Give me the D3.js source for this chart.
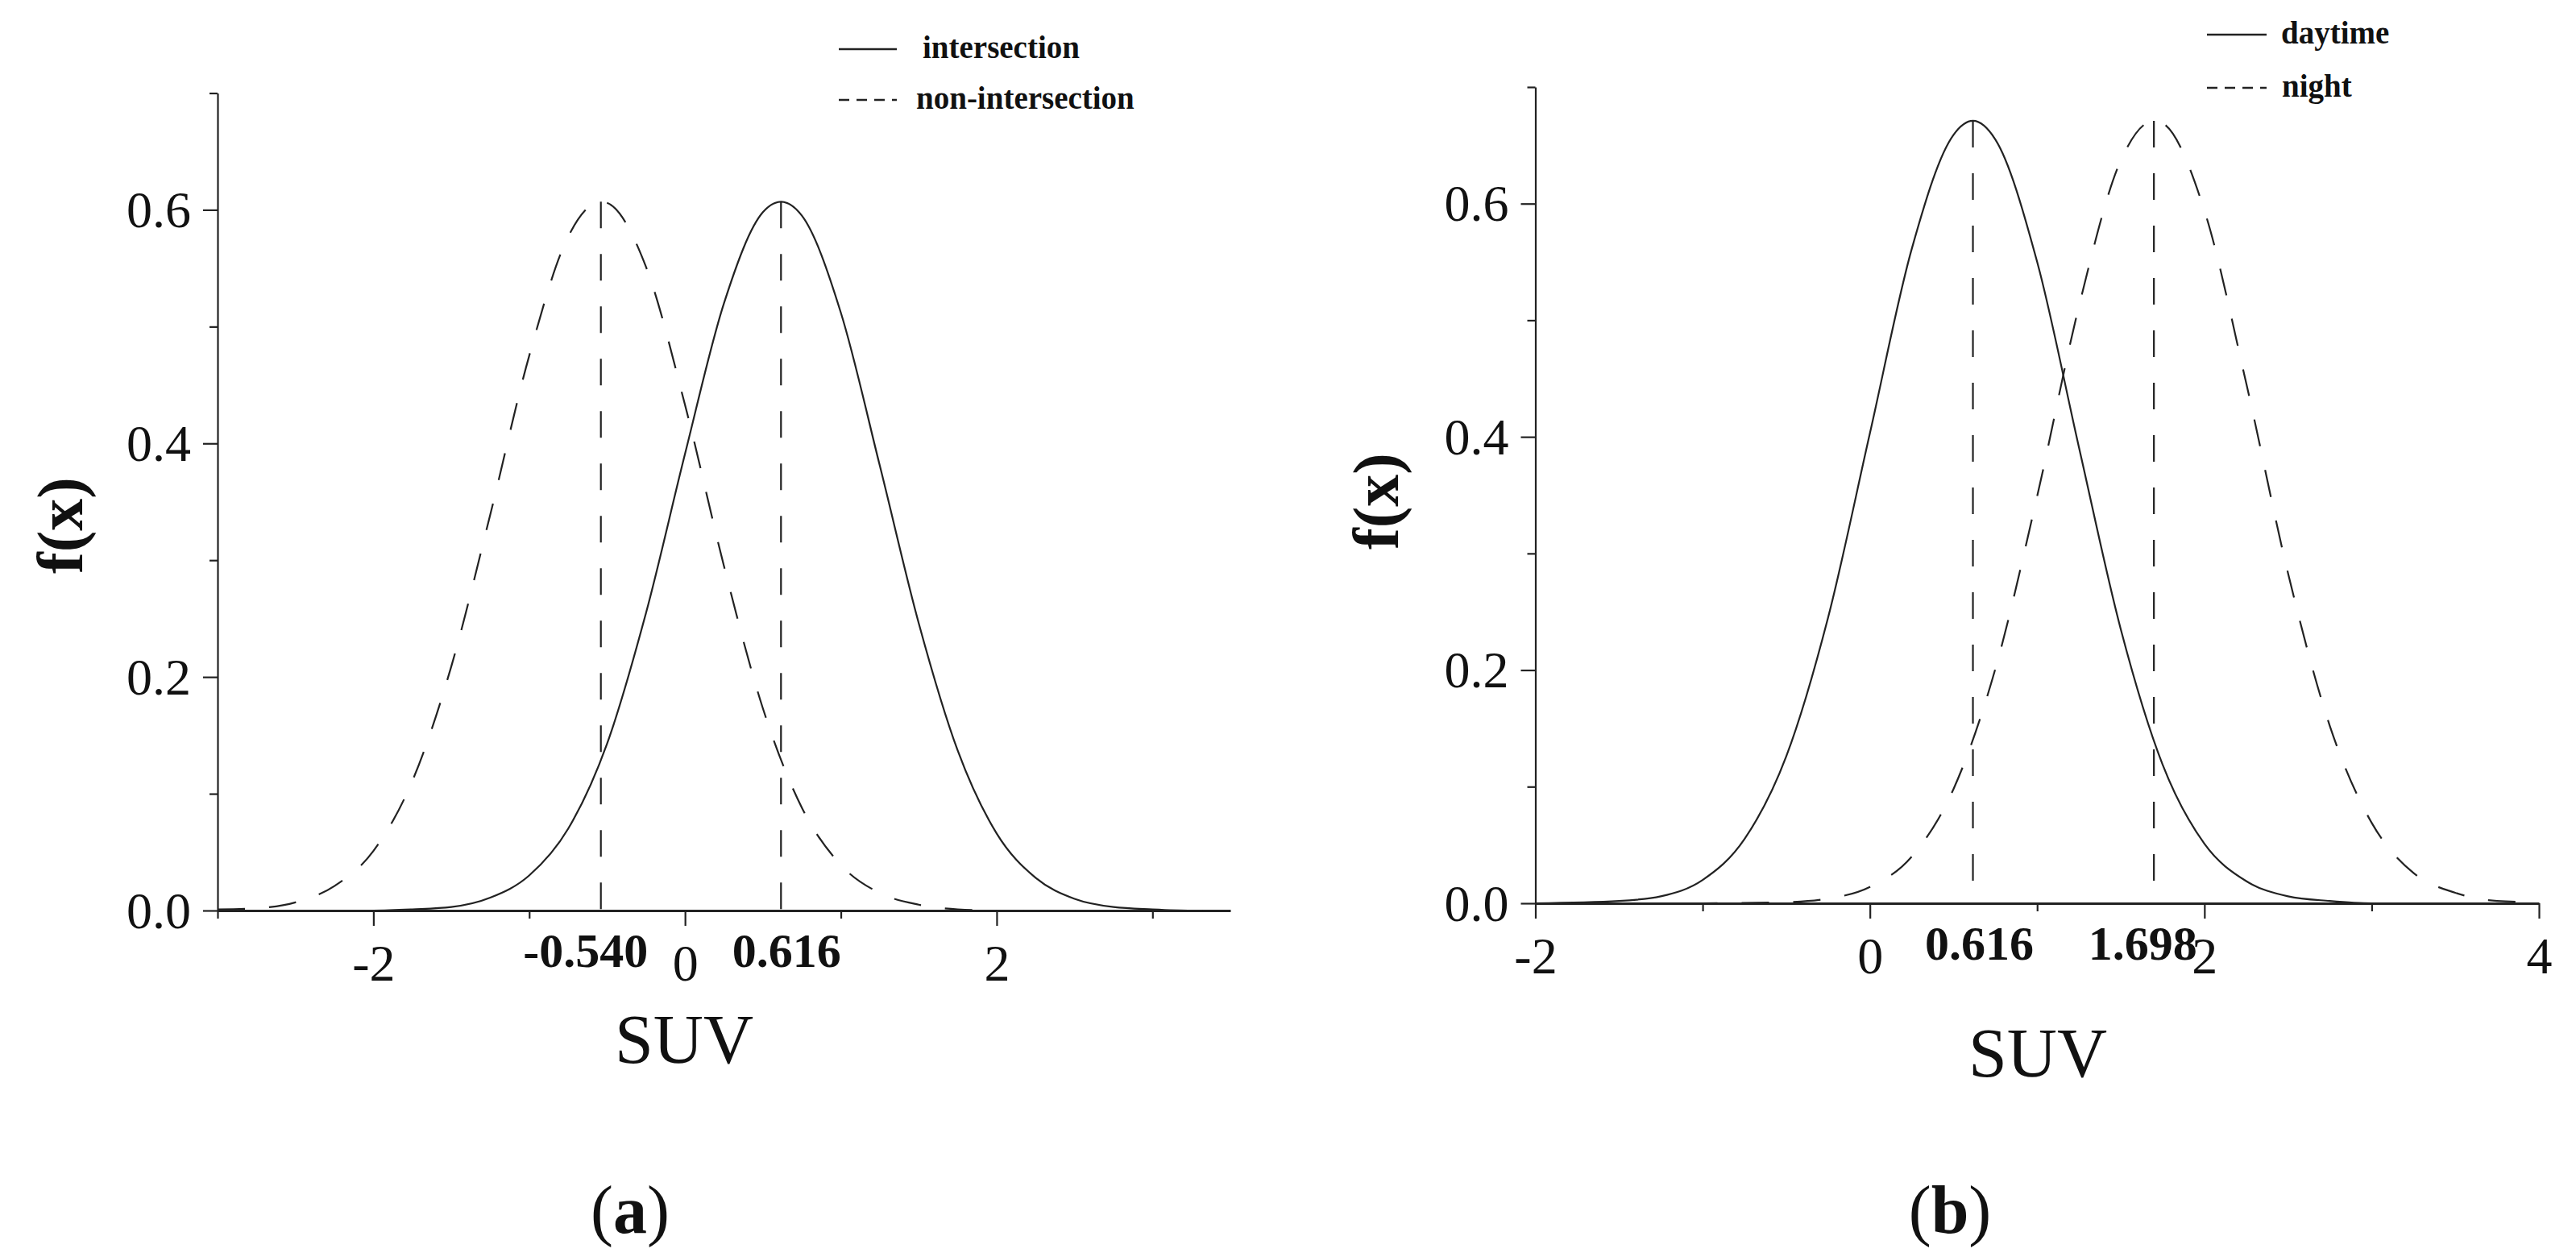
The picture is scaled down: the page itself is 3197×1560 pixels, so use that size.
<!DOCTYPE html>
<html>
<head>
<meta charset="utf-8">
<script src="https://cdn.jsdelivr.net/npm/d3@7"></script>
<style>
    body { margin: 0; background: #fff; }
    text { font-family: "Liberation Serif", "Times New Roman", serif; fill: #111; }
</style>
</head>
<body>
<div id="chart"></div>
<script>

// ---------- values ----------

// (a) intersection / non-intersection
const xIntersection = [-3, -2.5, -2, -1.75, -1.5, -1.25, -1, -0.75, -0.5, -0.25, 0, 0.25, 0.5, 0.616, 0.75, 1, 1.25, 1.5, 1.75, 2, 2.25, 2.5, 2.75, 3, 3.25, 3.5];
const yIntersection = [0, 0, 0.000, 0.001, 0.003, 0.011, 0.030, 0.070, 0.143, 0.255, 0.391, 0.520, 0.598, 0.607, 0.595, 0.512, 0.381, 0.246, 0.137, 0.066, 0.028, 0.010, 0.003, 0.001, 0.000, 0];

const xNonIntersection = [-3, -2.75, -2.5, -2.25, -2, -1.75, -1.5, -1.25, -1, -0.75, -0.54, -0.5, -0.25, 0, 0.25, 0.5, 0.75, 1, 1.25, 1.5, 1.75, 2, 2.5, 3, 3.5];
const yNonIntersection = [0.001, 0.002, 0.007, 0.021, 0.051, 0.111, 0.209, 0.339, 0.475, 0.577, 0.607, 0.606, 0.551, 0.433, 0.295, 0.173, 0.088, 0.039, 0.015, 0.005, 0.001, 0.000, 0, 0, 0];

const meansA = [-0.540, 0.616];
const peaksA = [0.607, 0.607];
const meanLabelsA = ["-0.540", "0.616"];
const legendA = ["intersection", "non-intersection"];

// (b) daytime / night
const xDaytime = [-2, -1.5, -1.25, -1, -0.75, -0.5, -0.25, 0, 0.25, 0.5, 0.616, 0.75, 1, 1.25, 1.5, 1.75, 2, 2.25, 2.5, 2.75, 3, 3.5, 4];
const yDaytime = [0.000, 0.002, 0.006, 0.020, 0.055, 0.126, 0.245, 0.403, 0.561, 0.659, 0.671, 0.655, 0.550, 0.391, 0.235, 0.119, 0.051, 0.019, 0.006, 0.002, 0.000, 0, 0];

const xNight = [-2, -1, -0.5, -0.25, 0, 0.25, 0.5, 0.75, 1, 1.25, 1.5, 1.698, 1.75, 2, 2.25, 2.5, 2.75, 3, 3.25, 3.5, 3.75, 4];
const yNight = [0, 0, 0.001, 0.004, 0.014, 0.040, 0.098, 0.201, 0.349, 0.512, 0.637, 0.671, 0.669, 0.594, 0.446, 0.283, 0.152, 0.069, 0.026, 0.009, 0.002, 0.001];

const meansB = [0.616, 1.698];
const peaksB = [0.671, 0.671];
const meanLabelsB = ["0.616", "1.698"];
const legendB = ["daytime", "night"];

// axes
const xDomainA = [-3, 3.5];
const xDomainB = [-2, 4];
const xMajorA = [-2, 0, 2];
const xMinorA = [-3, -1, 1, 3];
const xMajorB = [-2, 0, 2, 4];
const xMinorB = [-1, 1, 3];
const yMajor = [0, 0.2, 0.4, 0.6];
const yMinor = [0.1, 0.3, 0.5, 0.7];
const yMax = 0.7;


/* * * * * * * * * * * * * *
*       DensityPanel       *
* * * * * * * * * * * * * */

class DensityPanel {

    constructor(svg, cfg) {
        this.svg = svg;
        this.cfg = cfg;
        this.initVis();
    }

    initVis() {
        let vis = this;
        let c = vis.cfg;

        vis.g = vis.svg.append("g");

        vis.x = d3.scaleLinear().domain(c.xDomain).range([c.left, c.right]);
        vis.y = d3.scaleLinear().domain([0, yMax]).range([c.bottom, c.top]);

        // minor ticks
        vis.g.append("g")
            .attr("class", "axis")
            .attr("transform", "translate(0," + c.bottom + ")")
            .call(d3.axisBottom(vis.x).tickValues(c.xMinor).tickSize(10).tickSizeOuter(0).tickFormat(""))
            .call(g => g.select(".domain").remove());

        vis.g.append("g")
            .attr("class", "axis")
            .attr("transform", "translate(" + c.left + ",0)")
            .call(d3.axisLeft(vis.y).tickValues(yMinor).tickSize(10).tickSizeOuter(0).tickFormat(""))
            .call(g => g.select(".domain").remove());

        // major ticks + labels
        vis.xAxis = vis.g.append("g")
            .attr("class", "axis")
            .attr("transform", "translate(0," + c.bottom + ")")
            .call(d3.axisBottom(vis.x).tickValues(c.xMajor).tickSize(19).tickSizeOuter(0).tickFormat(d => String(d)));

        vis.xAxis.selectAll("text")
            .attr("y", 87).attr("dy", null)
            .style("font-size", "64px");

        vis.yAxis = vis.g.append("g")
            .attr("class", "axis")
            .attr("transform", "translate(" + c.left + ",0)")
            .call(d3.axisLeft(vis.y).tickValues(yMajor).tickSize(18).tickSizeOuter(0).tickFormat(d3.format(".1f")));

        vis.yAxis.selectAll("text")
            .attr("x", -33).attr("dy", "0.33em")
            .style("font-size", "64px");

        vis.g.selectAll(".axis line").attr("stroke", "#222").attr("stroke-width", 2.2);
        vis.xAxis.select(".domain").attr("stroke", "#222").attr("stroke-width", 3.2);
        vis.yAxis.select(".domain").attr("stroke", "#222").attr("stroke-width", 2.2);
        vis.g.selectAll(".axis text").attr("fill", "#111").style("font-family", "Liberation Serif, serif");

        // axis titles
        vis.g.append("text")
            .attr("x", c.suvX).attr("y", c.suvY)
            .attr("text-anchor", "middle")
            .style("font-size", "86px")
            .text("SUV");

        vis.g.append("text")
            .attr("transform", "translate(" + c.fxX + "," + c.fxY + ") rotate(-90)")
            .attr("text-anchor", "middle")
            .style("font-size", "80px")
            .style("font-weight", "bold")
            .text("f(x)");

        // panel tag
        let tag = vis.g.append("text")
            .attr("x", c.tagX).attr("y", 1530)
            .attr("text-anchor", "middle")
            .style("font-size", "84px");
        tag.append("tspan").text("(");
        tag.append("tspan").style("font-weight", "bold").text(c.tag);
        tag.append("tspan").text(")");

        vis.line = d3.line()
            .x(d => vis.x(d[0]))
            .y(d => vis.y(d[1]))
            .curve(d3.curveMonotoneX);

        vis.updateVis();
    }

    updateVis() {
        let vis = this;
        let c = vis.cfg;

        // density curves
        vis.g.append("path")
            .datum(d3.zip(c.solidX, c.solidY))
            .attr("fill", "none")
            .attr("stroke", "#222")
            .attr("stroke-width", 2.2)
            .attr("d", vis.line);

        vis.g.append("path")
            .datum(d3.zip(c.dashX, c.dashY))
            .attr("fill", "none")
            .attr("stroke", "#222")
            .attr("stroke-width", 2.2)
            .attr("stroke-dasharray", "34,30")
            .attr("d", vis.line);

        // mean drop lines
        vis.g.selectAll(".mean-line")
            .data(d3.zip(c.means, c.peaks))
            .enter().append("line")
            .attr("class", "mean-line")
            .attr("x1", d => vis.x(d[0]))
            .attr("x2", d => vis.x(d[0]))
            .attr("y1", d => vis.y(d[1]))
            .attr("y2", vis.y(0))
            .attr("stroke", "#222")
            .attr("stroke-width", 2.2)
            .attr("stroke-dasharray", "33,32");

        vis.g.selectAll(".mean-label")
            .data(d3.zip(c.means, c.meanLabels, c.labelShift))
            .enter().append("text")
            .attr("class", "mean-label")
            .attr("x", d => vis.x(d[0]) + d[2])
            .attr("y", c.bottom + 70)
            .attr("text-anchor", "middle")
            .style("font-size", "60px")
            .style("font-weight", "bold")
            .text(d => d[1]);

        // legend
        let leg = c.legendPos;
        c.legend.forEach(function(name, i) {
            let p = leg[i];
            vis.g.append("line")
                .attr("x1", p.x0).attr("x2", p.x1)
                .attr("y1", p.ly).attr("y2", p.ly)
                .attr("stroke", "#222")
                .attr("stroke-width", 2.4)
                .attr("stroke-dasharray", i === 0 ? null : "13,9");
            vis.g.append("text")
                .attr("x", p.tx).attr("y", p.ty)
                .style("font-size", "39px")
                .style("font-weight", "bold")
                .text(name);
        });
    }
}


let svg = d3.select("#chart").append("svg")
    .attr("width", 3197)
    .attr("height", 1560)
    .style("display", "block")
    .style("background", "#fff");

new DensityPanel(svg, {
    left: 270, right: 1527, top: 115.5, bottom: 1130,
    xDomain: xDomainA, xMajor: xMajorA, xMinor: xMinorA,
    solidX: xIntersection, solidY: yIntersection,
    dashX: xNonIntersection, dashY: yNonIntersection,
    means: meansA, peaks: peaksA, meanLabels: meanLabelsA, labelShift: [-19, 7],
    legend: legendA,
    legendPos: [
        {x0: 1041, x1: 1113, ly: 61, tx: 1145, ty: 72},
        {x0: 1041, x1: 1113, ly: 124, tx: 1137, ty: 135}
    ],
    suvX: 849, suvY: 1319,
    fxX: 102, fxY: 652,
    tagX: 782, tag: "a"
});

new DensityPanel(svg, {
    left: 1905.5, right: 3151, top: 108, bottom: 1121,
    xDomain: xDomainB, xMajor: xMajorB, xMinor: xMinorB,
    solidX: xDaytime, solidY: yDaytime,
    dashX: xNight, dashY: yNight,
    means: meansB, peaks: peaksB, meanLabels: meanLabelsB, labelShift: [8, -14],
    legend: legendB,
    legendPos: [
        {x0: 2739, x1: 2813, ly: 43, tx: 2831, ty: 54},
        {x0: 2739, x1: 2813, ly: 109, tx: 2832, ty: 120}
    ],
    suvX: 2529, suvY: 1336,
    fxX: 1735, fxY: 622,
    tagX: 2420, tag: "b"
});

</script>
</body>
</html>
